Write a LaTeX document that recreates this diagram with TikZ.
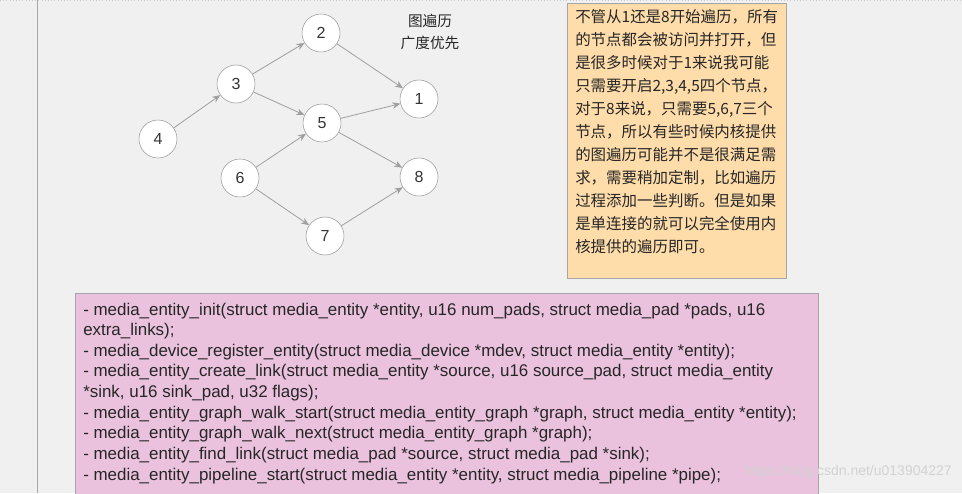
\documentclass[tikz,border=0pt]{standalone}
\usepackage{fontspec}
\setmainfont{Liberation Sans}
\newfontfamily\cjk{Noto Sans CJK SC}
\usetikzlibrary{arrows.meta}
\begin{document}
\begin{tikzpicture}[x=0.75pt,y=-0.75pt,
  vtx/.style={circle,draw=gray!80,fill=white,minimum size=28.5pt,inner sep=0pt,font=\fontsize{12}{14}\selectfont,text=black!80},
  edge/.style={-{Stealth[length=6pt,width=5pt]},draw=gray!75,line width=0.6pt},
  codeline/.style={anchor=west,inner sep=0pt,font=\fontsize{12.7}{14}\selectfont,text=black!85}]
\fill[gray!12] (0,0) rectangle (962,493);
\useasboundingbox (0,0) rectangle (962,493);
\draw[gray!70,line width=0.7pt] (37,0) -- (37,493);
\draw[gray!40,dotted] (0,0.5) -- (962,0.5);
\node[vtx] (n2) at (321,33) {2};
\node[vtx] (n3) at (236,84) {3};
\node[vtx] (n1) at (419,99) {1};
\node[vtx] (n4) at (158,139) {4};
\node[vtx] (n5) at (322,123) {5};
\node[vtx] (n6) at (240,178) {6};
\node[vtx] (n8) at (419,177) {8};
\node[vtx] (n7) at (325,236) {7};
\draw[edge] (n4) -- (n3);
\draw[edge] (n3) -- (n2);
\draw[edge] (n3) -- (n5);
\draw[edge] (n2) -- (n1);
\draw[edge] (n5) -- (n1);
\draw[edge] (n5) -- (n8);
\draw[edge] (n6) -- (n5);
\draw[edge] (n6) -- (n7);
\draw[edge] (n7) -- (n8);
\node[align=center,font=\cjk\fontsize{11}{17}\selectfont,text=black!85] (title) at (430,32) {图遍历\\广度优先};
\node[draw=gray!70,fill={rgb,255:red,255;green,221;blue,170},minimum width=219*0.75pt,minimum height=275*0.75pt,anchor=north west,inner sep=0pt] (obox) at (567,3) {};
\node[anchor=north west,align=left,inner sep=0pt,font=\cjk\fontsize{11.6}{17.3}\selectfont,text=black!85] (otext) at (575,9) {不管从1还是8开始遍历，所有\\的节点都会被访问并打开，但\\是很多时候对于1来说我可能\\只需要开启2,3,4,5四个节点，\\对于8来说，只需要5,6,7三个\\节点，所以有些时候内核提供\\的图遍历可能并不是很满足需\\求，需要稍加定制，比如遍历\\过程添加一些判断。但是如果\\是单连接的就可以完全使用内\\核提供的遍历即可。};
\node[draw=gray!70,fill={rgb,255:red,234;green,194;blue,222},minimum width=743*0.75pt,minimum height=210*0.75pt,anchor=north west,inner sep=0pt] (pbox) at (75,293) {};
\node[codeline] (c1) at (83,311) {- media\_entity\_init(struct media\_entity *entity, u16 num\_pads, struct media\_pad *pads, u16};
\node[codeline] (c2) at (83,331) {extra\_links);};
\node[codeline] (c3) at (83,352) {- media\_device\_register\_entity(struct media\_device *mdev, struct media\_entity *entity);};
\node[codeline] (c4) at (83,372) {- media\_entity\_create\_link(struct media\_entity *source, u16 source\_pad, struct media\_entity};
\node[codeline] (c5) at (83,393) {*sink, u16 sink\_pad, u32 flags);};
\node[codeline] (c6) at (83,414) {- media\_entity\_graph\_walk\_start(struct media\_entity\_graph *graph, struct media\_entity *entity);};
\node[codeline] (c7) at (83,434) {- media\_entity\_graph\_walk\_next(struct media\_entity\_graph *graph);};
\node[codeline] (c8) at (83,455) {- media\_entity\_find\_link(struct media\_pad *source, struct media\_pad *sink);};
\node[codeline] (c9) at (83,476) {- media\_entity\_pipeline\_start(struct media\_entity *entity, struct media\_pipeline *pipe);};
\node[anchor=east,inner sep=0pt,font=\fontsize{10.5}{12}\selectfont,text=white!65!gray] (wm) at (952,472) {https://blog.csdn.net/u013904227};
\end{tikzpicture}
\end{document}
